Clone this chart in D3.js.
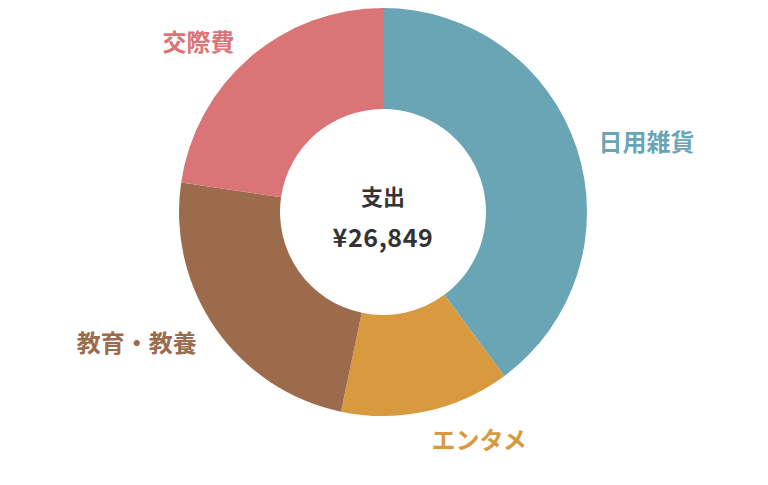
<!DOCTYPE html>
<html><head><meta charset="utf-8">
<script src="https://cdn.jsdelivr.net/npm/d3@7"></script>
<style>
html,body{margin:0;padding:0;background:#fff;}
svg{display:block;}
text{font-family:"Noto Sans CJK JP","Noto Sans",sans-serif;}
</style></head>
<body>
<svg id="chart" width="768" height="485"></svg>
<script>
const categories = ["日用雑貨", "エンタメ", "教育・教養", "交際費"];
const values = [10702, 3609, 6444, 6094];
const colors = ["#6aa5b6", "#d99a3f", "#9b6b4b", "#da7477"];
const centerTitle = "支出";

const W = 768, H = 485;
const cx = 383, cy = 212;
const outerR = 204, innerR = 103, labelR = 227;

const svg = d3.select("#chart");
const g = svg.append("g").attr("transform", `translate(${cx},${cy})`);

const data = categories.map((c, i) => ({ name: c, value: values[i], color: colors[i] }));
const pie = d3.pie().value(d => d.value).sort(null);
const arcs = pie(data);
const arc = d3.arc().innerRadius(innerR).outerRadius(outerR);
const labelArc = d3.arc().innerRadius(labelR).outerRadius(labelR);
const mid = d => (d.startAngle + d.endAngle) / 2;

g.selectAll("path.slice").data(arcs).enter().append("path")
  .attr("class", "slice")
  .attr("d", arc)
  .attr("fill", d => d.data.color);

g.selectAll("text.label").data(arcs).enter().append("text")
  .attr("class", "label")
  .attr("x", d => labelArc.centroid(d)[0])
  .attr("y", d => {
    const c = Math.cos(mid(d));
    return labelArc.centroid(d)[1] + (c < -0.9 ? 5 : 0);
  })
  .attr("text-anchor", d => mid(d) < Math.PI ? "start" : "end")
  .attr("dominant-baseline", "central")
  .attr("fill", d => d.data.color)
  .attr("font-size", 24)
  .attr("font-weight", 700)
  .text(d => d.data.name);

const total = d3.sum(values);
g.append("text")
  .attr("x", 0).attr("y", -17)
  .attr("text-anchor", "middle")
  .attr("dominant-baseline", "central")
  .attr("fill", "#333")
  .attr("font-size", 22)
  .attr("font-weight", 700)
  .text(centerTitle);
g.append("text")
  .attr("x", 0).attr("y", 24)
  .attr("text-anchor", "middle")
  .attr("dominant-baseline", "central")
  .attr("fill", "#333")
  .attr("font-size", 25)
  .attr("font-weight", 700)
  .attr("letter-spacing", 0.6)
  .text("¥" + d3.format(",")(total));
</script>
</body></html>
